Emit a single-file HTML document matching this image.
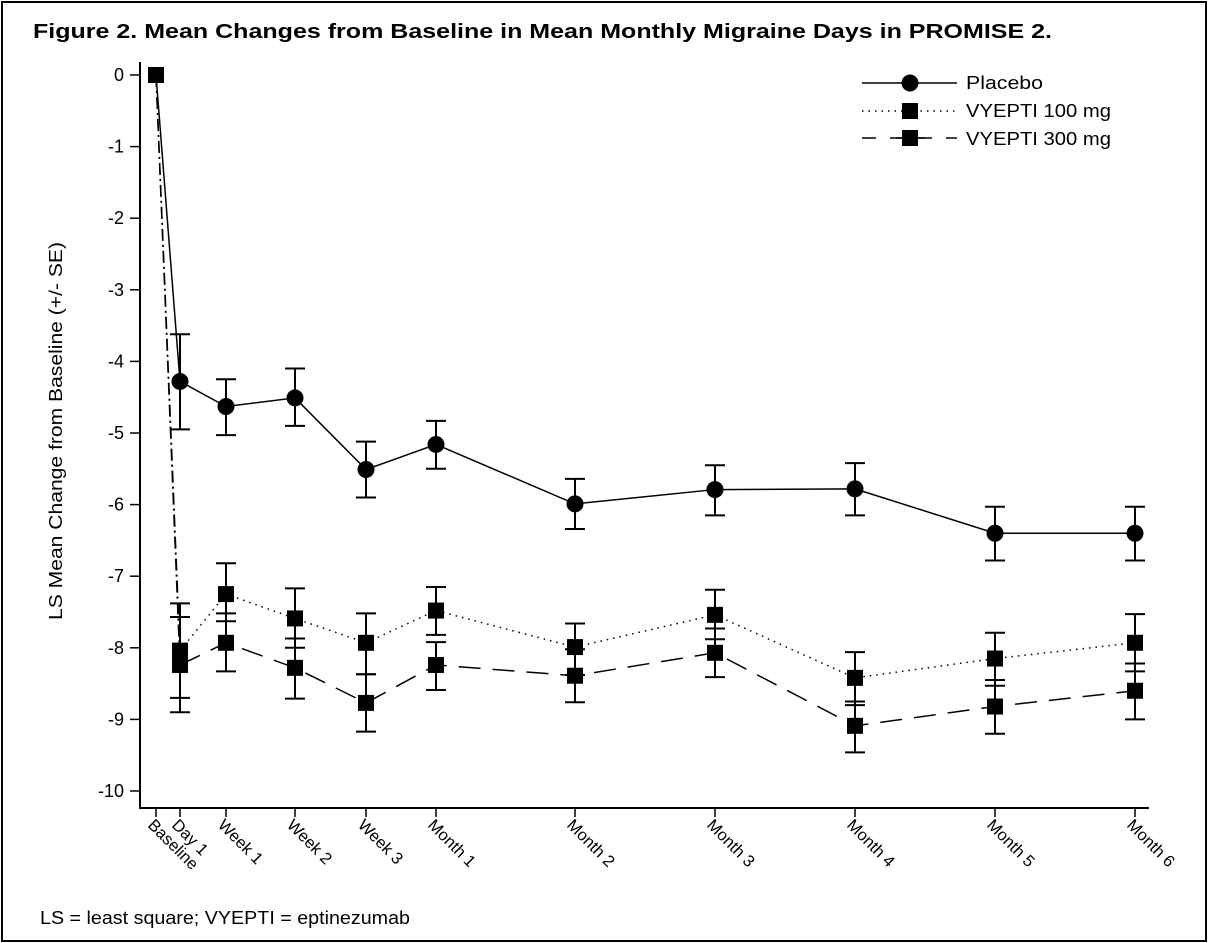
<!DOCTYPE html>
<html><head><meta charset="utf-8"><style>
html,body{margin:0;padding:0;background:#fff;}
svg{display:block;font-family:"Liberation Sans",Arial,sans-serif;}
</style></head><body>
<svg id="s" width="1208" height="943" viewBox="0 0 1208 943" xmlns="http://www.w3.org/2000/svg">
<rect x="2" y="2" width="1204" height="939" fill="none" stroke="#000" stroke-width="2"/>
<text x="33" y="38" font-size="20.5" font-weight="bold" textLength="1019" lengthAdjust="spacingAndGlyphs">Figure 2. Mean Changes from Baseline in Mean Monthly Migraine Days in PROMISE 2.</text>
<text x="40" y="924" font-size="18" textLength="370" lengthAdjust="spacingAndGlyphs">LS = least square; VYEPTI = eptinezumab</text>
<text transform="translate(62,431) rotate(-90)" font-size="18.5" text-anchor="middle" textLength="378" lengthAdjust="spacingAndGlyphs">LS Mean Change from Baseline (+/- SE)</text>
<g id="g"></g>
</svg>
<script>
var g=document.getElementById('g'),h='';
function Y(v){return 75+(-v)*71.6;}
var X=[156,180,226,295,366,436,575,715,855,995,1135];
var L=['Baseline','Day 1','Week 1','Week 2','Week 3','Month 1','Month 2','Month 3','Month 4','Month 5','Month 6'];
h+='<line x1="140" y1="62" x2="140" y2="808" stroke="#000" stroke-width="2"/>';
h+='<line x1="139" y1="808" x2="1149" y2="808" stroke="#000" stroke-width="2"/>';
for(var i=0;i<=10;i++){var y=Y(-i);h+='<line x1="130" y1="'+y+'" x2="140" y2="'+y+'" stroke="#000" stroke-width="1.5"/><text x="124" y="'+(y+6)+'" font-size="18" text-anchor="end">'+(i?'-'+i:'0')+'</text>';}
for(var i=0;i<11;i++){h+='<line x1="'+X[i]+'" y1="808" x2="'+X[i]+'" y2="817" stroke="#000" stroke-width="1.5"/><text transform="translate('+(X[i]-9)+',826) rotate(45)" font-size="16.5">'+L[i]+'</text>';}
var P=[[0,0,0],[-4.28,-3.62,-4.95],[-4.63,-4.25,-5.03],[-4.51,-4.1,-4.9],[-5.51,-5.12,-5.9],[-5.16,-4.83,-5.5],[-5.99,-5.64,-6.34],[-5.79,-5.45,-6.15],[-5.78,-5.42,-6.15],[-6.4,-6.03,-6.78],[-6.4,-6.03,-6.78]];
var A=[[0,0,0],[-8.04,-7.57,-8.7],[-7.25,-6.82,-7.63],[-7.59,-7.17,-8.0],[-7.93,-7.52,-8.37],[-7.48,-7.15,-7.82],[-7.99,-7.66,-8.38],[-7.54,-7.19,-7.88],[-8.42,-8.06,-8.8],[-8.15,-7.79,-8.53],[-7.93,-7.53,-8.33]];
var B=[[0,0,0],[-8.24,-7.38,-8.9],[-7.93,-7.52,-8.33],[-8.28,-7.87,-8.71],[-8.77,-8.37,-9.17],[-8.24,-7.92,-8.59],[-8.39,-8.02,-8.76],[-8.07,-7.73,-8.41],[-9.09,-8.75,-9.46],[-8.82,-8.45,-9.2],[-8.6,-8.22,-9.0]];
function series(D,dash,sq){
  var pts=[];for(var i=1;i<11;i++)pts.push(X[i]+','+Y(D[i][0]));
  h+='<polyline points="'+pts.join(' ')+'" fill="none" stroke="#000" stroke-width="1.5" stroke-dasharray="'+dash+'"/>';
  h+='<line x1="'+X[0]+'" y1="'+Y(0)+'" x2="'+X[1]+'" y2="'+Y(D[1][0])+'" stroke="#000" stroke-width="1.5" stroke-dasharray="'+(sq?'12,4,2,4':'none')+'"/>';
  for(var i=1;i<11;i++){var x=X[i],a=Y(D[i][1]),b=Y(D[i][2]);
    h+='<path d="M'+x+' '+a+'V'+b+'M'+(x-10)+' '+a+'H'+(x+10)+'M'+(x-10)+' '+b+'H'+(x+10)+'" stroke="#000" stroke-width="2" fill="none"/>';}
  for(var i=0;i<11;i++){var x=X[i],y=Y(D[i][0]);
    if(sq)h+='<rect x="'+(x-8)+'" y="'+(y-8)+'" width="16" height="16" fill="#000"/>';
    else if(i>0)h+='<circle cx="'+x+'" cy="'+y+'" r="8.5" fill="#000"/>';}
}
series(P,'none',false);series(A,'1.5,5',true);series(B,'22,12',true);
h+='<line x1="862" y1="83" x2="957" y2="83" stroke="#000" stroke-width="1.5"/><circle cx="910" cy="83" r="8.5"/>';
h+='<line x1="862" y1="111" x2="957" y2="111" stroke="#000" stroke-width="1.5" stroke-dasharray="1.5,5"/><rect x="902" y="103" width="16" height="16"/>';
h+='<line x1="862" y1="138" x2="957" y2="138" stroke="#000" stroke-width="1.5" stroke-dasharray="14,14"/><rect x="902" y="130" width="16" height="16"/>';
h+='<line x1="896" y1="138" x2="925" y2="138" stroke="#000" stroke-width="1.5"/>';
h+='<text x="966" y="89" font-size="18.5" textLength="77" lengthAdjust="spacingAndGlyphs">Placebo</text><text x="966" y="117" font-size="18.5" textLength="145" lengthAdjust="spacingAndGlyphs">VYEPTI 100 mg</text><text x="966" y="145" font-size="18.5" textLength="145" lengthAdjust="spacingAndGlyphs">VYEPTI 300 mg</text>';
g.innerHTML=h;
</script>
</body></html>
